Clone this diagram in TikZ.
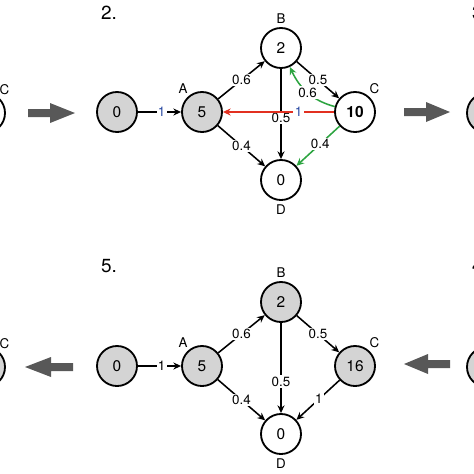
\documentclass[tikz,border=0pt]{standalone}
\usepackage{fontspec}
\setmainfont{TeX Gyre Heros}
\usepackage{xcolor}
\usetikzlibrary{positioning,arrows.meta}
\definecolor{visitgray}{RGB}{212,212,212}
\definecolor{pathred}{RGB}{226,48,32}
\definecolor{relaxgreen}{RGB}{44,164,64}
\definecolor{weightblue}{RGB}{44,76,164}
\definecolor{stepgray}{RGB}{88,88,88}

\begin{document}
\begin{tikzpicture}[
  x=0.025cm, y=-0.025cm,
  vertex/.style={circle, draw, line width=1.3pt, minimum size=1cm, inner sep=0pt, fill=white, font=\fontsize{11}{13}\selectfont},
  done/.style={vertex, fill=visitgray},
  tag/.style={font=\fontsize{9.5}{11}\selectfont, inner sep=1pt},
  weight/.style={fill=white, inner sep=1pt, font=\fontsize{9.5}{11}\selectfont},
  flow/.style={-{Stealth[length=5.5pt,width=5pt]}, line width=1.1pt},
  title/.style={font=\fontsize{13.5}{15}\selectfont},
  bigarrow/.style={fill=stepgray, draw=none}
]
\clip (0,0) rectangle (474,474);

% panel 1, 3, 4 and 6 (cut off at the sides)
\node[vertex, label={[tag]52:C}] (c1) at (-15,113) {};
\node[title] (t3) at (480,13) {3.};
\node[done] (z3) at (487,113) {};
\node[title] (t4) at (480,266) {4.};
\node[done] (z4) at (487,367) {};
\node[done, label={[tag]52:C}] (c6) at (-15,367) {};

% steps between panels
\draw[bigarrow, shift={(28,113)}] (0,-4) -- (22,-4) -- (22,-10) -- (47,0) -- (22,10) -- (22,4) -- (0,4) -- cycle;
\draw[bigarrow, shift={(404,112)}] (0,-4) -- (22,-4) -- (22,-10) -- (46,0) -- (22,10) -- (22,4) -- (0,4) -- cycle;
\draw[bigarrow, shift={(450,364)}, xscale=-1] (0,-4) -- (22,-4) -- (22,-10) -- (46,0) -- (22,10) -- (22,4) -- (0,4) -- cycle;
\draw[bigarrow, shift={(73,367)}, xscale=-1] (0,-4) -- (22,-4) -- (22,-10) -- (48,0) -- (22,10) -- (22,4) -- (0,4) -- cycle;

% panel 2
\node[title] (t2) at (109,13) {2.};
\node[done] (z2) at (117,112) {0};
\node[done, label={[tag]128:A}] (a2) at (202,112) {5};
\node[vertex, label={[tag, label distance=1.5pt]90:B}] (b2) at (281,48) {2};
\node[vertex, label={[tag]52:C}] (c2) at (355,112) {\textbf{10}};
\node[vertex, label={[tag, label distance=1.5pt]-90:D}] (d2) at (281,180) {0};

\draw[flow] (z2) -- node[weight, pos=0.55, text=weightblue] {1} (a2);
\draw[flow] (a2) -- node[weight] {0.6} (b2);
\draw[flow] (a2) -- node[weight] {0.4} (d2);
\draw[flow] (b2) -- node[weight, pos=0.54] {0.5} (d2);
\draw[flow] (b2) -- node[weight] {0.5} (c2);
\draw[flow, draw=pathred] (c2) -- node[weight, pos=0.32, text=weightblue] {1} (a2);
\draw[flow, draw=relaxgreen] (c2) to[out=165, in=-65] node[weight] {0.6} (b2);
\draw[flow, draw=relaxgreen] (c2) -- node[weight, pos=0.45] {0.4} (d2);

% panel 5
\node[title] (t5) at (109,266) {5.};
\node[done] (z5) at (117,366) {0};
\node[done, label={[tag]128:A}] (a5) at (202,366) {5};
\node[done, label={[tag, label distance=1.5pt]90:B}] (b5) at (281,302) {2};
\node[done, label={[tag]52:C}] (c5) at (355,366) {16};
\node[vertex, label={[tag, label distance=1.5pt]-90:D}] (d5) at (281,434) {0};

\draw[flow] (z5) -- node[weight, pos=0.55] {1} (a5);
\draw[flow] (a5) -- node[weight] {0.6} (b5);
\draw[flow] (a5) -- node[weight] {0.4} (d5);
\draw[flow] (b5) -- node[weight, pos=0.65] {0.5} (d5);
\draw[flow] (b5) -- node[weight] {0.5} (c5);
\draw[flow] (c5) -- node[weight, pos=0.48] {1} (d5);
\end{tikzpicture}
\end{document}
